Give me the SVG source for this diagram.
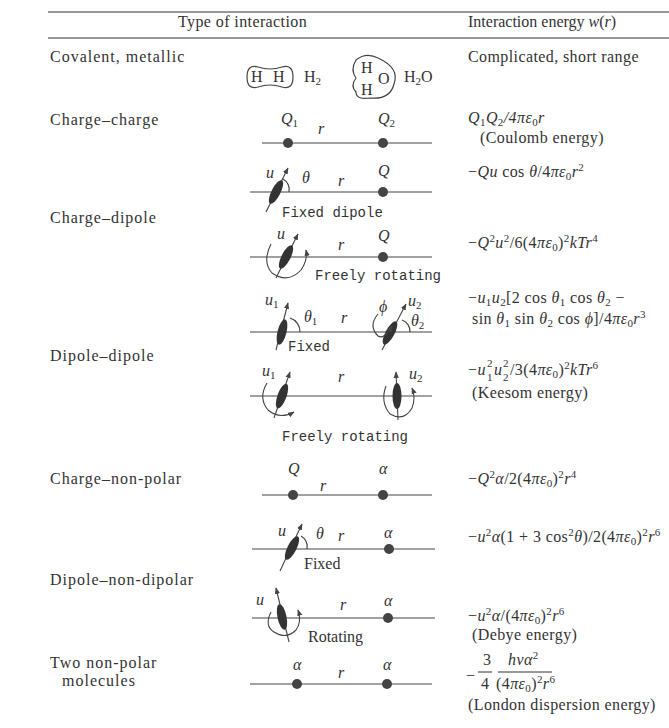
<svg xmlns="http://www.w3.org/2000/svg" width="669" height="728" viewBox="0 0 669 728">
<style>
text{font-family:"Liberation Serif",serif;font-size:16px;fill:#333}
.l{letter-spacing:1px}
.f{letter-spacing:0.4px}
.i{font-style:italic}
.s{font-size:11px;font-style:normal}
.m{font-family:"Liberation Mono",monospace;font-size:14px}
.ax{stroke:#444;stroke-width:1.2;fill:none}
.dot{fill:#444}
.dp{fill:#333}
.arr{stroke:#444;stroke-width:1.1;fill:none;marker-end:url(#ah)}
.rule{stroke:#333;stroke-width:1}
</style>
<defs>
<marker id="ah" viewBox="0 0 10 10" refX="9" refY="5" markerWidth="6" markerHeight="6" orient="auto"><path d="M0,1 L10,5 L0,9 Z" fill="#444"/></marker>
<g id="dip"><ellipse cx="0" cy="0" rx="4.5" ry="13" class="dp"/></g>
</defs>
<rect width="669" height="728" fill="#fff"/>
<g id="header">
<line x1="48" y1="12" x2="669" y2="12" class="rule"/>
<text x="178" y="27" class="f">Type of interaction</text>
<text x="468" y="27">Interaction energy <tspan class="i">w</tspan>(<tspan class="i">r</tspan>)</text>
<line x1="48" y1="38" x2="669" y2="38" class="rule"/>
</g>
<g id="labels" class="l">
<text x="50" y="62" class="l">Covalent, metallic</text>
<text x="50" y="125" class="l">Charge–charge</text>
<text x="50" y="223" class="l">Charge–dipole</text>
<text x="50" y="361" class="l">Dipole–dipole</text>
<text x="50" y="484" class="l">Charge–non-polar</text>
<text x="50" y="585" class="l">Dipole–non-dipolar</text>
<text x="50" y="668" class="l">Two non-polar</text>
<text x="62" y="686" class="l">molecules</text>
</g>
<g id="energies" class="f">
<text x="468" y="123" class="i f">Q<tspan class="s" dy="3">1</tspan><tspan dy="-3">Q</tspan><tspan class="s" dy="3">2</tspan><tspan dy="-3">/4πε</tspan><tspan class="s" dy="3">0</tspan><tspan dy="-3">r</tspan></text>
<text x="468" y="62" class="f">Complicated, short range</text>
<text x="480" y="143" class="f">(Coulomb energy)</text>
<text x="468" y="177" class="f">−<tspan class="i">Qu</tspan> cos <tspan class="i">θ</tspan>/4<tspan class="i">πε</tspan><tspan class="s" dy="3">0</tspan><tspan class="i" dy="-3">r</tspan><tspan class="s" dy="-6">2</tspan></text>
<text x="468" y="248" class="f">−<tspan class="i">Q</tspan><tspan class="s" dy="-6">2</tspan><tspan class="i" dy="6">u</tspan><tspan class="s" dy="-6">2</tspan><tspan dy="6">/6(4</tspan><tspan class="i">πε</tspan><tspan class="s" dy="3">0</tspan><tspan dy="-3">)</tspan><tspan class="s" dy="-6">2</tspan><tspan class="i" dy="6">kTr</tspan><tspan class="s" dy="-6">4</tspan></text>
<text x="468" y="303" class="f">−<tspan class="i">u</tspan><tspan class="s" dy="3">1</tspan><tspan class="i" dy="-3">u</tspan><tspan class="s" dy="3">2</tspan><tspan dy="-3">[2 cos </tspan><tspan class="i">θ</tspan><tspan class="s" dy="3">1</tspan><tspan dy="-3"> cos </tspan><tspan class="i">θ</tspan><tspan class="s" dy="3">2</tspan><tspan dy="-3"> −</tspan></text>
<text x="472" y="324" class="f">sin <tspan class="i">θ</tspan><tspan class="s" dy="3">1</tspan><tspan dy="-3"> sin </tspan><tspan class="i">θ</tspan><tspan class="s" dy="3">2</tspan><tspan dy="-3"> cos </tspan><tspan class="i">ϕ</tspan>]/4<tspan class="i">πε</tspan><tspan class="s" dy="3">0</tspan><tspan class="i" dy="-3">r</tspan><tspan class="s" dy="-6">3</tspan></text>
<text x="468" y="375">−<tspan class="i">u</tspan></text>
<text x="487" y="367" class="s">2</text><text x="487" y="381" class="s">1</text>
<text x="494" y="375" class="i">u</text>
<text x="503" y="367" class="s">2</text><text x="503" y="381" class="s">2</text>
<text x="510" y="375">/3(4<tspan class="i">πε</tspan><tspan class="s" dy="3">0</tspan><tspan dy="-3">)</tspan><tspan class="s" dy="-6">2</tspan><tspan class="i" dy="6">kTr</tspan><tspan class="s" dy="-6">6</tspan></text>
<text x="472" y="398" class="f">(Keesom energy)</text>
<text x="468" y="484" class="f">−<tspan class="i">Q</tspan><tspan class="s" dy="-6">2</tspan><tspan class="i" dy="6">α</tspan>/2(4<tspan class="i">πε</tspan><tspan class="s" dy="3">0</tspan><tspan dy="-3">)</tspan><tspan class="s" dy="-6">2</tspan><tspan class="i" dy="6">r</tspan><tspan class="s" dy="-6">4</tspan></text>
<text x="468" y="542">−<tspan class="i">u</tspan><tspan class="s" dy="-6">2</tspan><tspan class="i" dy="6">α</tspan>(1 + 3 cos<tspan class="s" dy="-6">2</tspan><tspan class="i" dy="6">θ</tspan>)/2(4<tspan class="i">πε</tspan><tspan class="s" dy="3">0</tspan><tspan dy="-3">)</tspan><tspan class="s" dy="-6">2</tspan><tspan class="i" dy="6">r</tspan><tspan class="s" dy="-6">6</tspan></text>
<text x="468" y="621" class="f">−<tspan class="i">u</tspan><tspan class="s" dy="-6">2</tspan><tspan class="i" dy="6">α</tspan>/(4<tspan class="i">πε</tspan><tspan class="s" dy="3">0</tspan><tspan dy="-3">)</tspan><tspan class="s" dy="-6">2</tspan><tspan class="i" dy="6">r</tspan><tspan class="s" dy="-6">6</tspan></text>
<text x="472" y="640" class="f">(Debye energy)</text>
<text x="483" y="665">3</text>
<text x="508" y="665" class="i">hνα<tspan class="s" dy="-6">2</tspan></text>
<text x="466" y="681">−</text>
<line x1="478" y1="672" x2="492" y2="672" class="rule"/>
<line x1="498" y1="672" x2="552" y2="672" class="rule"/>
<text x="481" y="689">4</text>
<text x="496" y="689">(4<tspan class="i">πε</tspan><tspan class="s" dy="3">0</tspan><tspan dy="-3">)</tspan><tspan class="s" dy="-6">2</tspan><tspan class="i" dy="6">r</tspan><tspan class="s" dy="-6">6</tspan></text>
<text x="468" y="710" class="f">(London dispersion energy)</text>
</g>
<g id="covalent">
<path d="M258,67 Q270,71 282,67 Q293,64 293,77 Q293,90 282,87 Q270,83 258,87 Q247,90 247,77 Q247,64 258,67 Z" class="ax"/>
<text x="251" y="82">H</text><text x="273" y="82">H</text>
<text x="304" y="82">H<tspan class="s" dy="3">2</tspan></text>
<path d="M356,60 Q366,52 378,58 Q400,68 394,84 Q390,100 370,98 Q356,100 356,92 Q350,86 356,78 Q350,70 356,60 Z" class="ax"/>
<text x="361" y="73">H</text><text x="361" y="95">H</text><text x="378" y="84">O</text>
<text x="404" y="82">H<tspan class="s" dy="3">2</tspan><tspan dy="-3">O</tspan></text>
</g>
<g id="charge-charge">
<line x1="262" y1="143" x2="432" y2="143" class="ax"/>
<circle cx="288" cy="143" r="5" class="dot"/><circle cx="383" cy="143" r="5" class="dot"/>
<text x="281" y="124" class="i">Q<tspan class="s" dy="3">1</tspan></text>
<text x="378" y="124" class="i">Q<tspan class="s" dy="3">2</tspan></text>
<text x="318" y="134" class="i">r</text>
</g>
<g id="charge-dipole-fixed">
<line x1="250" y1="192" x2="432" y2="192" class="ax"/>
<line x1="266" y1="212" x2="288" y2="168" class="arr"/>
<use href="#dip" transform="translate(276,192) rotate(27)"/>
<path d="M289,192 A12,12 0 0 0 283,179" class="ax"/>
<circle cx="383" cy="192" r="5" class="dot"/>
<text x="266" y="178" class="i">u</text><text x="302" y="183" class="i">θ</text>
<text x="338" y="186" class="i">r</text><text x="378" y="176" class="i">Q</text>
<text x="282" y="217" class="m">Fixed dipole</text>
</g>
<g id="charge-dipole-rot">
<line x1="250" y1="257" x2="432" y2="257" class="ax"/>
<line x1="276" y1="278" x2="298" y2="234" class="arr"/>
<use href="#dip" transform="translate(286,257) rotate(27)"/>
<path d="M271,244 Q262,262 272,273 Q288,284 301,270 Q308,260 306,250" class="arr"/>
<circle cx="383" cy="257" r="5" class="dot"/>
<text x="277" y="239" class="i">u</text>
<text x="338" y="250" class="i">r</text><text x="378" y="241" class="i">Q</text>
<text x="315" y="280" class="m">Freely rotating</text>
</g>
<g id="dipole-dipole-fixed">
<line x1="250" y1="332" x2="432" y2="332" class="ax"/>
<line x1="276" y1="350" x2="288" y2="303" class="arr"/>
<use href="#dip" transform="translate(282,332) rotate(14)"/>
<path d="M300,332 A14,14 0 0 0 290,318" class="ax"/>
<text x="265" y="305" class="i">u<tspan class="s" dy="3">1</tspan></text>
<text x="304" y="322" class="i">θ<tspan class="s" dy="3">1</tspan></text>
<text x="341" y="323" class="i">r</text>
<line x1="382" y1="350" x2="406" y2="304" class="arr"/>
<use href="#dip" transform="translate(390,333) rotate(28)"/>
<path d="M378,314 Q368,326 378,336 Q384,340 392,326" class="arr"/>
<path d="M402,320 A12,12 0 0 1 410,332" class="ax"/>
<text x="379" y="312" class="i">ϕ</text>
<text x="408" y="306" class="i">u<tspan class="s" dy="3">2</tspan></text>
<text x="411" y="326" class="i">θ<tspan class="s" dy="3">2</tspan></text>
<text x="288" y="351" class="m">Fixed</text>
</g>
<g id="dipole-dipole-rot">
<line x1="250" y1="396" x2="432" y2="396" class="ax"/>
<line x1="274" y1="418" x2="290" y2="372" class="arr"/>
<use href="#dip" transform="translate(282,396) rotate(20)"/>
<path d="M267,383 Q258,398 268,410 Q280,420 294,412" class="arr"/>
<text x="262" y="376" class="i">u<tspan class="s" dy="3">1</tspan></text>
<text x="338" y="382" class="i">r</text>
<line x1="398" y1="420" x2="396" y2="372" class="arr"/>
<use href="#dip" transform="translate(397,396)"/>
<path d="M386,386 Q380,402 390,414 Q404,422 412,408 Q416,398 412,388" class="arr"/>
<text x="409" y="379" class="i">u<tspan class="s" dy="3">2</tspan></text>
<text x="282" y="441" class="m">Freely rotating</text>
</g>
<g id="charge-nonpolar">
<line x1="262" y1="495" x2="432" y2="495" class="ax"/>
<circle cx="293" cy="495" r="5" class="dot"/><circle cx="383" cy="495" r="5" class="dot"/>
<text x="288" y="474" class="i">Q</text><text x="320" y="491" class="i">r</text><text x="379" y="474" class="i">α</text>
</g>
<g id="dipole-nonpolar-fixed">
<line x1="252" y1="549" x2="435" y2="549" class="ax"/>
<line x1="280" y1="571" x2="302" y2="524" class="arr"/>
<use href="#dip" transform="translate(292,548) rotate(27)"/>
<path d="M307,549 A12,12 0 0 0 301,536" class="ax"/>
<circle cx="389" cy="549" r="5" class="dot"/>
<text x="278" y="536" class="i">u</text><text x="316" y="539" class="i">θ</text>
<text x="338" y="541" class="i">r</text><text x="384" y="538" class="i">α</text>
<text x="304" y="569">Fixed</text>
</g>
<g id="dipole-nonpolar-rot">
<line x1="252" y1="618" x2="435" y2="618" class="ax"/>
<line x1="289" y1="642" x2="276" y2="588" class="arr"/>
<use href="#dip" transform="translate(282,617) rotate(-12)"/>
<path d="M271,612 Q264,626 274,632 Q286,640 296,630 Q302,622 298,610" class="arr"/>
<circle cx="388" cy="618" r="5" class="dot"/>
<text x="256" y="605" class="i">u</text><text x="340" y="610" class="i">r</text><text x="384" y="606" class="i">α</text>
<text x="308" y="642">Rotating</text>
</g>
<g id="two-nonpolar">
<line x1="250" y1="684" x2="432" y2="684" class="ax"/>
<circle cx="297" cy="684" r="5" class="dot"/><circle cx="387" cy="684" r="5" class="dot"/>
<text x="293" y="670" class="i">α</text><text x="338" y="678" class="i">r</text><text x="383" y="670" class="i">α</text>
</g>
</svg>
